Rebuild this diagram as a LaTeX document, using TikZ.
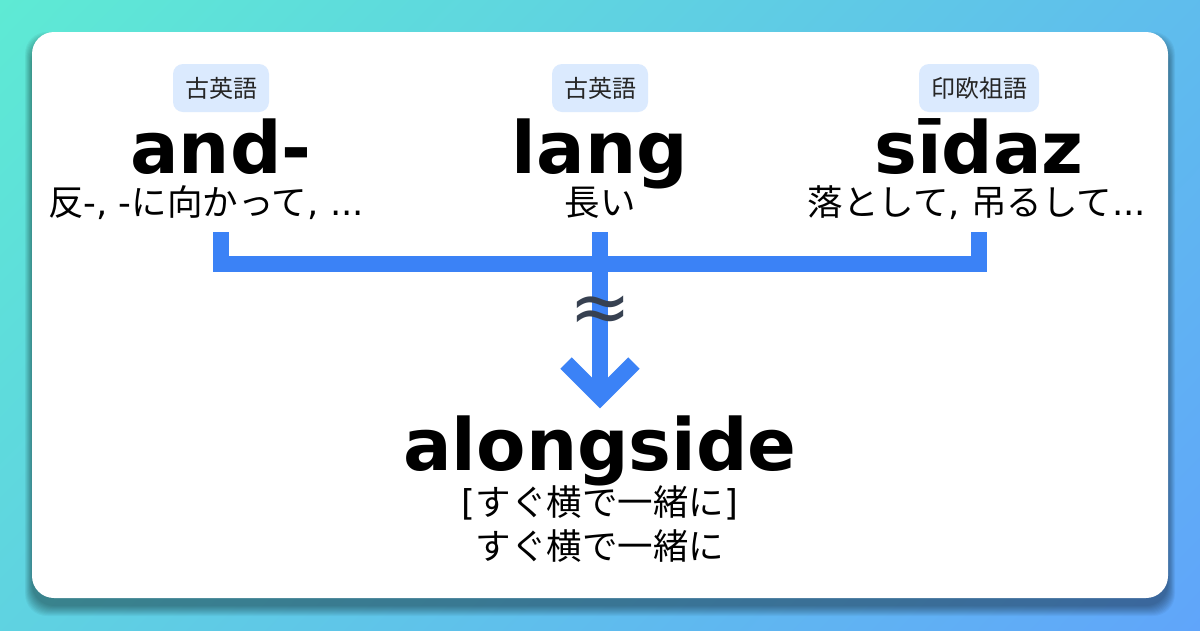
\documentclass[tikz,border=0pt]{standalone}
\usepackage{fontspec}
\setmainfont{DejaVu Sans}
\newfontfamily\jpfont{Noto Sans CJK JP}
\usetikzlibrary{positioning, calc, shadings}
\definecolor{bgteal}{HTML}{5EEAD4}
\definecolor{bgblue}{HTML}{60A5FA}
\definecolor{linkblue}{HTML}{3B82F6}
\definecolor{tagfill}{HTML}{DBEAFE}
\definecolor{approxgray}{HTML}{374151}
\newcommand{\px}[1]{\fontsize{#1}{#1}\selectfont}
\tikzset{
    tag/.style={fill=tagfill, rounded corners=10pt, minimum height=48pt,
      inner xsep=12pt, inner ysep=0pt, font=\jpfont\px{24}, text=black!85},
    word/.style={anchor=base, inner sep=0pt, font=\bfseries\px{72}},
    gloss/.style={anchor=base, inner sep=0pt, font=\px{35.5}},
    link/.style={draw=linkblue, line width=16pt, line join=miter},
}

\begin{document}
\begin{tikzpicture}[x=1pt, y=-1pt]
    \useasboundingbox (0,0) rectangle (1200,630);
    \shade[upper left=bgteal, lower right=bgblue,
      upper right=bgblue!66!bgteal, lower left=bgblue!34!bgteal]
      (0,0) rectangle (1200,630);

    % card with soft shadow
    \foreach \s in {0,...,10}
      \fill[black, opacity=0.04, rounded corners=22pt]
        (32-\s*0.7,42-\s) rectangle (1168+\s*0.7,606+\s);
    \fill[white, rounded corners=22pt] (32,32) rectangle (1168,598);

    % source words
    \node[tag] (t1) at (221,88) {古英語};
    \node[tag] (t2) at (600,88) {古英語};
    \node[tag] (t3) at (979,88) {印欧祖語};

    \node[word] (w1) at (221,173) {and-};
    \node[word] (w2) at (600,173) {lang};
    \node[word] (w3) at (979,173) {sīdaz};

    \node[gloss] (g1) at (206,215) {{\jpfont 反}-, -{\jpfont に向かって}, ...};
    \node[gloss] (g2) at (600,215) {\jpfont 長い};
    \node[gloss] (g3) at (977,215) {{\jpfont 落として}, {\jpfont 吊るして}...};

    % joining bracket and arrow
    \coordinate (c1) at (221,232);
    \coordinate (c2) at (600,232);
    \coordinate (c3) at (979,232);
    \coordinate (bar) at (600,264);
    \coordinate (tip) at (600,397);
    \coordinate (armL) at (566,363);
    \coordinate (armR) at (634,363);

    \draw[link] (c1) -- (c1 |- bar) -- (c3 |- bar) -- (c3);
    \draw[link] (c2) -- (tip);
    \draw[link] (armL) -- (tip) -- (armR);
    \node[inner sep=0pt, font=\px{74}, text=approxgray] (ap) at (600,314) {≈};

    % result
    \node[word] (res) at (600,470) {alongside};
    \node[gloss] (r1) at (600,515) {[{\jpfont すぐ横で一緒に}]};
    \node[gloss] (r2) at (600,559) {\jpfont すぐ横で一緒に};
\end{tikzpicture}
\end{document}
